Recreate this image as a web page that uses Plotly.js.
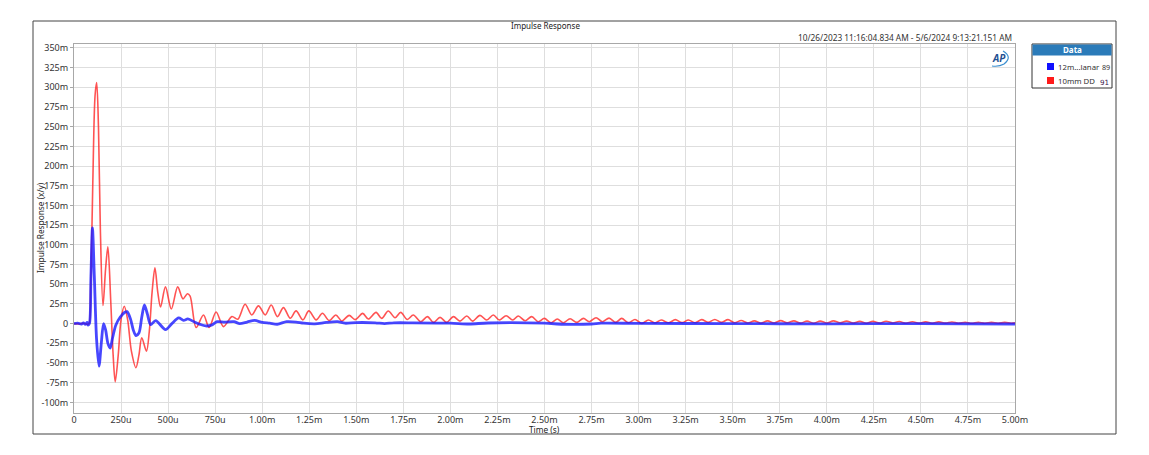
<!DOCTYPE html>
<html>
<head>
<meta charset="utf-8">
<script src="https://cdn.plot.ly/plotly-3.0.1.min.js"></script>
<style>
html,body{margin:0;padding:0;background:#fff;}
#chart{width:1149px;height:455px;}
</style>
</head>
<body>
<div id="chart"></div>
<script>
// ---- data (time in ms, response in milli-units) ----
const seriesNames = ["12m...lanar", "10mm DD"];
const seriesTags = ["89", "91"];

const blueT = [0,0.02,0.04,0.05,0.06,0.07,0.075,0.082,0.09,0.098,0.108,0.12,0.133,0.145,0.157,0.168,0.18,0.192,0.205,0.222,0.245,0.27,0.282,0.30,0.315,0.329,0.345,0.36,0.374,0.39,0.407,0.434,0.486,0.52,0.556,0.582,0.605,0.643,0.67,0.70,0.73,0.76,0.80,0.85,0.88,0.92,0.96,1.00,1.04,1.08,1.13,1.18,1.22,1.28,1.34,1.40,1.44,1.50,1.60,1.65,1.70,1.80,2.00,2.10,2.20,2.50,2.60,2.75,2.80,3.00,3.50,4.00,4.50,5.00];
const blueV = [0,0.5,-0.5,1,-1,1.5,-2,0,60,121.6,60,-20,-54,-25,0,-8,-25,-31,-18,-2,8,14.4,15.2,6,-8,-15.3,-12,8,23.7,12,-1.3,3.8,-7.6,0,7.2,4.2,5.9,1.7,-1,-3,-2,2.5,2,2.5,0,2,4,1.5,0.5,-0.8,2.5,2,0.5,-0.4,1.5,2.5,0.5,1.3,1,0,1,1,0.5,-0.5,0.8,0.5,-0.8,-0.5,0.5,0.3,0,-0.3,0,-0.5];

const redT = [0,0.03,0.05,0.07,0.08,0.088,0.10,0.112,0.1205,0.13,0.14,0.154,0.168,0.18,0.195,0.208,0.219,0.235,0.25,0.267,0.285,0.305,0.329,0.345,0.36,0.385,0.40,0.415,0.43,0.445,0.46,0.486,0.517,0.551,0.579,0.603,0.617,0.649,0.688,0.718,0.755,0.794,0.839,0.87,0.909,0.945,0.98,1.016,1.048,1.081,1.113,1.149,1.18,1.216,1.248,1.287,1.32,1.356,1.391,1.423,1.462,1.494,1.534,1.564,1.605,1.635,1.67,1.706,1.736,1.771,1.803,1.842,1.878,1.91,1.945,1.98,2.016,2.051,2.087,2.118,2.157,2.193,2.228,2.26,2.296,2.331,2.361,2.397,2.432,2.467,2.499,2.535,2.568,2.6,2.636,2.671,2.707,2.738,2.774,2.807,2.843,2.879,2.91,2.946,2.981,3.016,3.052,3.087,3.12,3.16,3.195,3.23,3.265,3.30,3.335,3.37,3.405,3.44,3.475,3.51,3.545,3.58,3.615,3.65,3.685,3.72,3.755,3.79,3.825,3.86,3.895,3.93,3.965,4.0,4.035,4.07,4.105,4.14,4.175,4.21,4.245,4.28,4.315,4.35,4.385,4.42,4.455,4.49,4.525,4.56,4.595,4.63,4.665,4.70,4.735,4.77,4.805,4.84,4.875,4.91,4.945,4.98,5.0];
const redV = [0,-0.5,0.5,-1,0,40,180,290,306,250,120,22.9,70,97.5,30,-40,-74,-40,5,22,5,-35,-56,-40,-18,-35,-10,40,70.8,40,21,46.6,18.6,46.6,31.4,38,35,-5,11,-5,14.8,-3.8,8.9,5.5,24.6,11,22.5,11,23.7,8.9,20.3,6.8,16.1,4.7,16.1,4.7,13.1,3.8,11,3.4,10.5,5,13,5.8,14.3,6.6,16,7.5,14.3,5.3,10.9,2.4,8.8,1.5,7.9,1.5,8.8,3.2,9.6,3.2,10.5,4.5,10.9,4.5,10,4.5,9.6,3.6,8.8,2.4,6.6,1.1,5.8,1.1,6.2,1.5,6.6,2.4,7.5,2.4,7,1.5,6.6,1.1,5.3,0.2,4.5,0.8,4.5,1,5,1.2,4.5,1,5,1.5,5.3,1.5,5,1,4,0.8,3.5,0.5,3.5,0.8,3.8,1,3.5,0.6,3.2,0.5,3.2,0.8,3.5,1,3.2,0.8,2.8,0.5,2.8,0.6,3,0.8,2.6,0.5,2.4,0.4,2.2,0.5,2.2,0.6,2,0.5,1.8,0.4,1.8,0.5,1.6,0.4,1.5,0.5,1];

const xTickVals = [0,0.25,0.5,0.75,1,1.25,1.5,1.75,2,2.25,2.5,2.75,3,3.25,3.5,3.75,4,4.25,4.5,4.75,5];
const xTickText = ["0","250u","500u","750u","1.00m","1.25m","1.50m","1.75m","2.00m","2.25m","2.50m","2.75m","3.00m","3.25m","3.50m","3.75m","4.00m","4.25m","4.50m","4.75m","5.00m"];
const yTickVals = [-100,-75,-50,-25,0,25,50,75,100,125,150,175,200,225,250,275,300,325,350];
const yTickText = ["-100m","-75m","-50m","-25m","0","25m","50m","75m","100m","125m","150m","175m","200m","225m","250m","275m","300m","325m","350m"];

// ---- layout helpers (pixel -> paper) ----
const L = 74, R = 1015, T = 44, B = 413;
const px = x => (x - L) / (R - L);
const py = y => (B - y) / (B - T);

const blueC = "rgba(25,25,255,0.8)";
const redC = "rgba(255,35,35,0.78)";
const FONT = "Noto Sans, Open Sans, sans-serif";

const traces = [
  {x: redT, y: redV, type: "scatter", mode: "lines", name: seriesNames[1],
   line: {color: redC, width: 1.6, shape: "spline", smoothing: 0.9}, hoverinfo: "skip"},
  {x: blueT, y: blueV, type: "scatter", mode: "lines", name: seriesNames[0],
   line: {color: blueC, width: 2.8, shape: "spline", smoothing: 0.8}, hoverinfo: "skip"}
];

const shapes = [
  // outer frame
  {type: "rect", xref: "paper", yref: "paper", x0: px(33), x1: px(1116), y0: py(434), y1: py(21),
   line: {color: "#444", width: 1}, fillcolor: "rgba(0,0,0,0)", layer: "below"},
  // legend box
  {type: "rect", xref: "paper", yref: "paper", x0: px(1032), x1: px(1112), y0: py(88), y1: py(44),
   line: {color: "#333", width: 1}, fillcolor: "#fff"},
  {type: "rect", xref: "paper", yref: "paper", x0: px(1032.5), x1: px(1111.5), y0: py(55.5), y1: py(44.5),
   line: {width: 0}, fillcolor: "#2b7bb9"},
  {type: "rect", xref: "paper", yref: "paper", x0: px(1047), x1: px(1054), y0: py(70), y1: py(63),
   line: {width: 0}, fillcolor: "#1010ff"},
  {type: "rect", xref: "paper", yref: "paper", x0: px(1047), x1: px(1054), y0: py(84), y1: py(77),
   line: {width: 0}, fillcolor: "#ff1a1a"},
  // AP logo swoosh
  {type: "path", xref: "paper", yref: "paper",
   path: `M ${px(1003)} ${py(51)} Q ${px(1013)} ${py(57)} ${px(1004)} ${py(64)} Q ${px(999)} ${py(67)} ${px(992)} ${py(66)}`,
   line: {color: "#3b8fd0", width: 1.2}}
];

const annotations = [
  {text: "Impulse Response", xref: "paper", yref: "paper", x: px(545), y: py(26), xanchor: "center", yanchor: "middle",
   showarrow: false, font: {family: FONT, size: 8, color: "#222"}},
  {text: "10/26/2023 11:16:04.834 AM - 5/6/2024 9:13:21.151 AM", xref: "paper", yref: "paper", x: px(1014), y: py(37.5),
   xanchor: "right", yanchor: "middle", showarrow: false, font: {family: FONT, size: 8.3, color: "#333"}},
  {text: "<b><i>AP</i></b>", xref: "paper", yref: "paper", x: px(999), y: py(58), xanchor: "center", yanchor: "middle",
   showarrow: false, font: {family: FONT, size: 10, color: "#1d4f91"}},
  {text: "<b>Data</b>", xref: "paper", yref: "paper", x: px(1072), y: py(50), xanchor: "center", yanchor: "middle",
   showarrow: false, font: {family: FONT, size: 8, color: "#fff"}},
  {text: seriesNames[0], xref: "paper", yref: "paper", x: px(1056), y: py(66.5), xanchor: "left", yanchor: "middle",
   showarrow: false, font: {family: FONT, size: 7.8, color: "#333"}},
  {text: seriesTags[0], xref: "paper", yref: "paper", x: px(1100), y: py(67.5), xanchor: "left", yanchor: "middle",
   showarrow: false, font: {family: FONT, size: 7.2, color: "#333"}},
  {text: seriesNames[1], xref: "paper", yref: "paper", x: px(1056), y: py(80.5), xanchor: "left", yanchor: "middle",
   showarrow: false, font: {family: FONT, size: 7.8, color: "#333"}},
  {text: seriesTags[1], xref: "paper", yref: "paper", x: px(1098), y: py(82), xanchor: "left", yanchor: "middle",
   showarrow: false, font: {family: "DejaVu Sans, sans-serif", size: 7.2, color: "#3a2050"}},
  {text: "Time (s)", xref: "paper", yref: "paper", x: px(544), y: py(430), xanchor: "center", yanchor: "middle",
   showarrow: false, font: {family: FONT, size: 8.3, color: "#222"}},
  {text: "Impulse Response (x/y)", xref: "paper", yref: "paper", x: px(40), y: py(228), xanchor: "center", yanchor: "middle",
   textangle: -90, showarrow: false, font: {family: FONT, size: 8.3, color: "#222"}}
];

const layout = {
  width: 1149, height: 455,
  margin: {l: L, r: 1149 - R, t: T, b: 455 - B, pad: 0},
  paper_bgcolor: "#fff", plot_bgcolor: "#fff",
  showlegend: false,
  xaxis: {
    range: [0, 5], tickvals: xTickVals, ticktext: xTickText,
    showgrid: true, gridcolor: "#dedede", gridwidth: 1, zeroline: false,
    showline: true, linecolor: "#a8a8a8", linewidth: 1, mirror: true,
    ticks: "", ticklabelstandoff: -2,
    tickfont: {family: FONT, size: 9, color: "#333"}
  },
  yaxis: {
    range: [-113.5, 355], tickvals: yTickVals, ticktext: yTickText,
    showgrid: true, gridcolor: "#dedede", gridwidth: 1, zeroline: false,
    showline: true, linecolor: "#a8a8a8", linewidth: 1, mirror: true,
    ticks: "outside", ticklen: 3, tickcolor: "#a8a8a8",
    tickfont: {family: FONT, size: 9, color: "#333"}
  },
  shapes: shapes,
  annotations: annotations
};

Plotly.newPlot("chart", traces, layout, {staticPlot: true, displayModeBar: false});
</script>
</body>
</html>
